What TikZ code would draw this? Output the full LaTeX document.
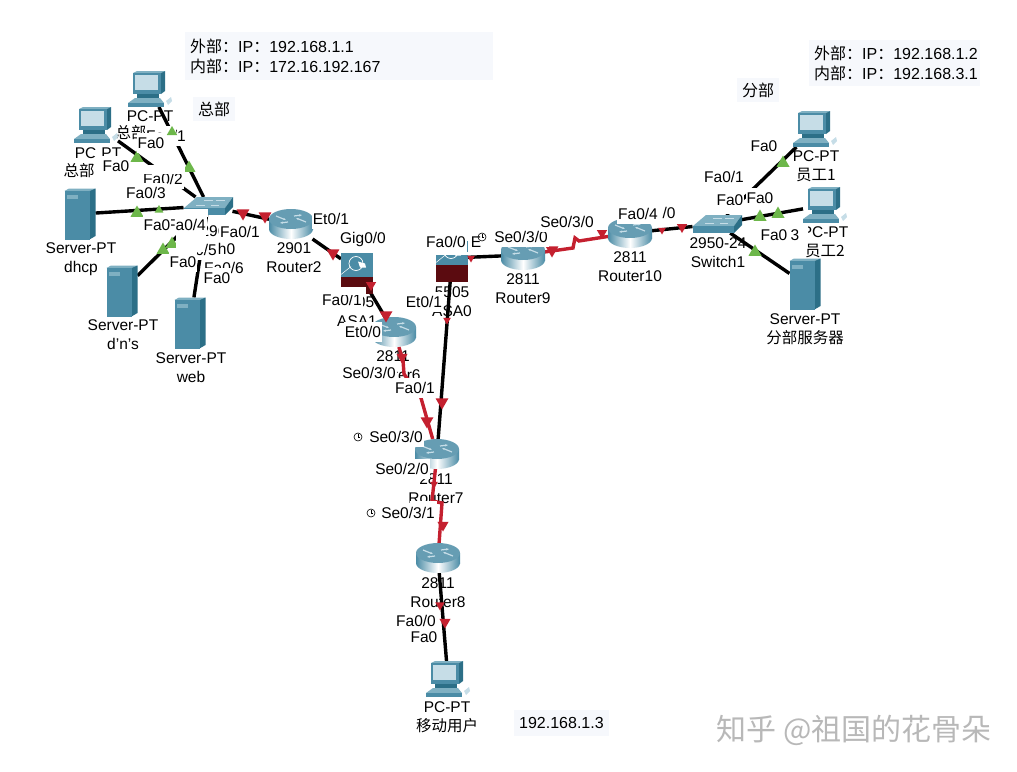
\documentclass[tikz,border=0pt]{standalone}
\usepackage{fontspec}
\setmainfont{Liberation Sans}
\newfontfamily\cjk{Noto Sans CJK SC}
\usepackage{xcolor}
\usepackage{tikz}
\usetikzlibrary{arrows.meta,positioning,shapes.geometric}
\definecolor{ptteal}{HTML}{4B8CA6}
\definecolor{ptdark}{HTML}{2C6F87}
\definecolor{ptlight}{HTML}{7FB0C2}
\definecolor{ptscreen}{HTML}{C6DDE7}
\definecolor{ptmaroon}{HTML}{5B0B10}
\definecolor{linkup}{HTML}{6DB74A}
\definecolor{linkdown}{HTML}{C4202F}
\definecolor{notefill}{HTML}{F6F8FC}
\newcommand{\zh}[1]{{\cjk #1}}
\tikzset{
    pcbox/.style={minimum width=44pt, minimum height=36pt, inner sep=0pt, outer sep=0pt},
    srvbox/.style={minimum width=31pt, minimum height=51pt, inner sep=0pt, outer sep=0pt},
    rtbox/.style={minimum width=44pt, minimum height=30pt, inner sep=0pt, outer sep=0pt},
    swbox/.style={minimum width=49pt, minimum height=18pt, inner sep=0pt, outer sep=0pt},
    asabox/.style={minimum width=32pt, minimum height=34pt, inner sep=0pt, outer sep=0pt},
    devlabel/.style={font=\fontsize{15.5}{19}\selectfont, align=center, inner sep=0pt},
    portlabel/.style={font=\fontsize{15.5}{19}\selectfont, fill=white, inner sep=1pt, minimum height=20pt},
    notebox/.style={font=\fontsize{16}{20}\selectfont, fill=notefill, anchor=north west, align=left, inner xsep=5pt, inner ysep=3pt},
    eth/.style={draw=black, line width=3.4pt},
    serial/.style={draw=linkdown, line width=3.4pt},
    uplight/.style={regular polygon, regular polygon sides=3, fill=linkup, inner sep=0pt, minimum size=15pt},
    downlight/.style={regular polygon, regular polygon sides=3, shape border rotate=180, fill=linkdown, inner sep=0pt, minimum size=15pt},
    cover/.style={fill=white},
    pcicon/.pic={
        \fill[ptlight] (-17,-16) -- (-13,-18) -- (15,-18) -- (11,-16) -- cycle;
        \fill[ptdark] (11,-16) -- (15,-18) -- (15,2) -- (11,5) -- cycle;
        \fill[ptteal] (-17,-16) rectangle (11,5);
        \fill[ptscreen] (-15,-14) rectangle (8,1);
        \fill[ptdark] (-13,5) rectangle (9,9);
        \fill[ptlight] (-15,9) -- (10,9) -- (14,14) -- (-22,14) -- cycle;
        \fill[ptteal] (-22,14) rectangle (14,18);
        \fill[ptscreen] (16,12) -- (21,8) -- (22,12) -- (18,16) -- cycle;
    },
    srvicon/.pic={
        \fill[ptlight] (-15.5,-23) -- (-11,-25.5) -- (15.5,-25.5) -- (9.5,-23) -- cycle;
        \fill[ptdark] (9.5,-23) -- (15.5,-25.5) -- (15.5,22) -- (9.5,25.5) -- cycle;
        \fill[ptteal] (-15.5,-23) rectangle (9.5,25.5);
        \fill[ptlight] (-13,-19) rectangle (-2,-15);
    },
    rticon/.pic={
        \shade[left color=ptteal, right color=ptteal, middle color=white] (0,5) ellipse [x radius=22pt, y radius=10pt];
        \shade[left color=ptteal, right color=ptteal, middle color=white] (-22,-5) rectangle (22,5);
        \fill[ptteal!85!white] (0,-5) ellipse [x radius=22pt, y radius=10pt];
        \draw[ptscreen, line width=1.2pt, -{Stealth[length=3pt]}] (-15,-8) -- (-5,-4);
        \draw[ptscreen, line width=1.2pt, -{Stealth[length=3pt]}] (15,-2) -- (5,-6);
        \draw[ptscreen, line width=1.2pt, -{Stealth[length=3pt]}] (-3,-2) -- (-11,-1);
        \draw[ptscreen, line width=1.2pt, -{Stealth[length=3pt]}] (3,-8) -- (11,-9);
    },
    swicon/.pic={
        \fill[ptlight] (-24,2) -- (-11,-9) -- (25,-9) -- (17,2) -- cycle;
        \fill[ptteal] (-24,2) rectangle (17,9);
        \fill[ptdark] (17,2) -- (25,-9) -- (25,1) -- (17,9) -- cycle;
        \draw[ptscreen, line width=.9pt] (-12,-1) -- (-3,-1) (-4,-6) -- (5,-6) (3,-1) -- (11,-1) (8,-6) -- (17,-6);
    },
    asaicon/.pic={
        \fill[ptteal] (-16,-20.5) rectangle (16,3.5);
        \fill[ptmaroon] (-16,3.5) rectangle (16,20.5);
        \draw[white, line width=.7pt] (-1,-10) circle [radius=7pt];
        \fill[white] (1,-12) -- (8,-10) -- (9,-6) -- (3,-6) -- cycle;
        \draw[white, line width=.5pt] (-16,1) -- (-6,-7);
    },
    clockmark/.pic={
        \draw[line width=.6pt] (0,0) circle [radius=4pt];
        \draw[line width=.6pt] (0,-2.6) -- (0,0) -- (2.2,0);
    },
}
\begin{document}
\begin{tikzpicture}[x=1pt, y=-1pt]
    \useasboundingbox (0,0) rectangle (1017,771);
    % --- notes ---
    \node[notebox, text width=298pt, minimum height=48pt] (notehq) at (185,32) {\zh{外部：}IP\zh{：}192.168.1.1\\\zh{内部：}IP\zh{：}172.16.192.167};
    \node[notebox, text width=161pt, minimum height=46pt] (notebranch) at (809,40) {\zh{外部：}IP\zh{：}192.168.1.2\\\zh{内部：}IP\zh{：}192.168.3.1};
    \node[notebox, minimum width=40pt, minimum height=24pt, align=center] (notehqname) at (193,97) {\zh{总部}};
    \node[notebox, minimum width=38pt, minimum height=24pt, align=center] (notebrname) at (737,78) {\zh{分部}};
    \node[notebox, minimum width=93pt, minimum height=26pt, align=center] (notemobile) at (514,710) {192.168.1.3};
    % --- device anchors ---
    \node[pcbox] (pc1) at (150,89) {};
    \node[pcbox] (pc2) at (96,125) {};
    \node[srvbox] (dhcp) at (80,214) {};
    \node[srvbox] (dns) at (122,291) {};
    \node[srvbox] (web) at (190,323) {};
    \node[swbox] (sw0) at (208,206) {};
    \node[rtbox] (r2) at (291,224) {};
    \node[asabox] (asa1) at (357,270) {};
    \node[rtbox] (r6) at (394,332) {};
    \node[asabox] (asa0) at (452,258) {};
    \node[rtbox] (r9) at (523,255) {};
    \node[rtbox] (r10) at (630,233) {};
    \node[swbox] (sw1) at (717,224) {};
    \node[pcbox] (staff1) at (815,129) {};
    \node[pcbox] (staff2) at (825,205) {};
    \node[srvbox] (srvbr) at (805,284) {};
    \node[rtbox] (r7) at (437,454) {};
    \node[rtbox] (r8) at (438,558) {};
    \node[pcbox] (mobile) at (448,679) {};
    % --- device labels ---
    \node[devlabel] (lpc1) at (150,116) {PC-PT};
    \node[devlabel] (lpc1b) at (131,133) {\zh{总部}};
    \node[devlabel] (lpc2) at (98,153) {PC-PT};
    \node[devlabel] (lpc2b) at (79,171) {\zh{总部}};
    \node[devlabel] (ldhcp) at (81,259) {Server-PT\\dhcp};
    \node[devlabel] (ldns) at (123,335) {Server-PT\\d'n's};
    \node[devlabel] (lweb) at (191,368) {Server-PT\\web};
    \node[devlabel] (lsw0) at (229,231) {2960-24};
    \node[devlabel] (lsw0b) at (208,249) {Switch0};
    \node[devlabel] (lr2) at (294,258) {2901\\Router2};
    \node[devlabel] (lasa1) at (357,312) {5505\\ASA1};
    \node[devlabel] (lr6) at (393,366) {2811\\Router6};
    \node[devlabel] (lasa0) at (452,302) {5505\\ASA0};
    \node[devlabel] (lr9) at (523,289) {2811\\Router9};
    \node[devlabel] (lr10) at (630,267) {2811\\Router10};
    \node[devlabel] (lsw1) at (718,253) {2950-24\\Switch1};
    \node[devlabel] (lstaff1) at (816,166) {PC-PT\\\zh{员工1}};
    \node[devlabel] (lstaff2) at (825,242) {PC-PT\\\zh{员工2}};
    \node[devlabel] (lsrvbr) at (805,329) {Server-PT\\\zh{分部服务器}};
    \node[devlabel] (lr7) at (436,489) {2811\\Router7};
    \node[devlabel] (lr8) at (438,593) {2811\\Router8};
    \node[devlabel] (lmobile) at (447,717) {PC-PT\\\zh{移动用户}};
    % --- links ---
    \coordinate (z6a) at (403,360);
    \coordinate (z6b) at (404,374);
    \coordinate (z6c) at (421,398);
    \coordinate (z9a) at (573,248);
    \coordinate (z9b) at (575,238);
    \coordinate (z9c) at (579,241);
    \coordinate (z7a) at (432,501);
    \coordinate (z7b) at (442,503);
    \draw[eth] (pc1) -- (sw0);
    \draw[eth] (pc2) -- (sw0);
    \draw[eth] (dhcp) -- (sw0);
    \draw[eth] (dns) -- (sw0);
    \draw[eth] (web) -- (sw0);
    \draw[eth] (sw0) -- (r2);
    \draw[eth] (r2) -- (asa1);
    \draw[eth] (asa1) -- (r6);
    \draw[eth] (asa0) -- (r7);
    \draw[eth] (asa0) -- (r9);
    \draw[eth] (r10) -- (sw1);
    \draw[eth] (sw1) -- (staff1);
    \draw[eth] (sw1) -- (staff2);
    \draw[eth] (sw1) -- (srvbr);
    \draw[eth] (r8) -- (mobile);
    \draw[serial] (r6) -- (z6a) -- (z6b) -- (z6c) -- (r7);
    \draw[serial] (r9) -- (z9a) -- (z9b) -- (z9c) -- (r10);
    \draw[serial] (r7) -- (z7a) -- (z7b) -- (r8);
    % --- icons ---
    \pic at (pc1) {pcicon};
    \pic at (pc2) {pcicon};
    \pic at (dhcp) {srvicon};
    \pic at (dns) {srvicon};
    \pic at (web) {srvicon};
    \pic at (sw0) {swicon};
    \pic at (r2) {rticon};
    \pic at (357,273.5) {asaicon};
    \pic at (r6) {rticon};
    \pic at (452,261.5) {asaicon};
    \pic at (r9) {rticon};
    \pic at (r10) {rticon};
    \pic at (sw1) {swicon};
    \pic at (staff1) {pcicon};
    \pic at (staff2) {pcicon};
    \pic at (srvbr) {srvicon};
    \pic at (r7) {rticon};
    \pic at (r8) {rticon};
    \pic at (mobile) {pcicon};
    % --- link lights ---
    \node[uplight] (upa) at (189,168) {};
    \node[uplight] (upb) at (137,158) {};
    \node[uplight] (upc) at (137,213) {};
    \node[uplight, minimum size=10pt] (upd) at (159,210) {};
    \node[uplight] (upe) at (163,250) {};
    \node[uplight] (upf) at (172,244) {};
    \node[uplight] (upg) at (783,163) {};
    \node[uplight] (uph) at (760,217) {};
    \node[uplight] (upi) at (778,214) {};
    \node[uplight] (upj) at (755,252) {};
    \node[downlight] (dna) at (243,213) {};
    \node[downlight] (dnb) at (265,216) {};
    \node[downlight] (dnc) at (333,253) {};
    \node[downlight, minimum size=12pt] (dnd) at (371,285) {};
    \node[downlight] (dne) at (386,315) {};
    \node[downlight, minimum size=13pt] (dnf) at (402,357) {};
    \node[downlight] (dng) at (427,421) {};
    \node[downlight, minimum size=9pt] (dnh) at (447,320) {};
    \node[downlight] (dni) at (442,402) {};
    \node[downlight, minimum size=9pt] (dnj) at (471,258) {};
    \node[downlight] (dnk) at (552,250) {};
    \node[downlight, minimum size=12pt] (dnl) at (602,233) {};
    \node[downlight, minimum size=9pt] (dnm) at (662,230) {};
    \node[downlight, minimum size=12pt] (dnn) at (682,227) {};
    \node[downlight, minimum size=9pt] (dno) at (434,484) {};
    \node[downlight, minimum size=13pt] (dnp) at (443,525) {};
    \node[downlight, minimum size=11pt] (dnq) at (440,605) {};
    \node[downlight, minimum size=13pt] (dnr) at (445,622) {};
    % --- port labels ---
    \node[portlabel] (p1a) at (166,136) {Fa0/1};
    \node[portlabel] (p1b) at (151,143) {Fa0};
    \node[portlabel] (p2a) at (163,179) {Fa0/2};
    \node[portlabel] (p2b) at (116,166) {Fa0};
    \node[portlabel] (p3a) at (146,193) {Fa0/3};
    \node[portlabel] (p4a) at (186,225) {Fa0/4};
    \node[portlabel] (p4b) at (157,225) {Fa0};
    \node[portlabel] (p5a) at (197,250) {Fa0/5};
    \node[portlabel] (p6a) at (224,268) {Fa0/6};
    \node[portlabel] (p6b) at (217,278) {Fa0};
    \node[portlabel] (p7a) at (240,232) {Fa0/1};
    \node[portlabel] (p7b) at (331,219) {Et0/1};
    \node[portlabel] (p8a) at (363,239) {Gig0/0};
    \node[portlabel] (p8b) at (342,300) {Fa0/1};
    \node[portlabel] (p9a) at (363,332) {Et0/0};
    \node[portlabel] (p9b) at (369,373) {Se0/3/0};
    \node[portlabel] (p10a) at (415,388) {Fa0/1};
    \node[portlabel] (p10b) at (424,302) {Et0/1};
    \node[portlabel] (p11a) at (476,242) {E};
    \node[portlabel] (p11b) at (446,242) {Fa0/0};
    \node[portlabel] (p12a) at (521,237) {Se0/3/0};
    \node[portlabel] (p12b) at (567,222) {Se0/3/0};
    \node[portlabel] (p13a) at (669,213) {/0};
    \node[portlabel] (p13b) at (638,214) {Fa0/4};
    \node[portlabel] (p14a) at (724,177) {Fa0/1};
    \node[portlabel] (p14b) at (764,146) {Fa0};
    \node[portlabel] (p15a) at (730,200) {Fa0};
    \node[portlabel] (p15b) at (760,198) {Fa0};
    \node[portlabel] (p16a) at (774,235) {Fa0};
    \node[portlabel] (p16b) at (795,235) {3};
    \node[portlabel] (p17a) at (396,437) {Se0/3/0};
    \node[portlabel] (p17b) at (402,469) {Se0/2/0};
    \node[portlabel] (p18a) at (408,513) {Se0/3/1};
    \node[portlabel] (p19a) at (424,637) {Fa0};
    \node[portlabel] (p19b) at (416,621) {Fa0/0};
    % --- clipped parts ---
    \path[cover] (165,126) rectangle (176,146);
    \path[cover] (94,150) rectangle (101,156);
    \path[cover] (143,165) rectangle (185,174);
    \path[cover] (184,209) rectangle (208,217);
    \path[cover] (176,235) rectangle (206,241);
    \path[cover] (176,241) rectangle (205,252);
    \path[cover] (341,287) rectangle (366,295);
    \path[cover] (435,252) rectangle (470,255);
    \path[cover] (410,501) rectangle (437,505);
    \path[cover] (725,205) rectangle (745,214);
    \path[cover] (800,225) rectangle (808,244);
    \node[portlabel] (p5b) at (183,262) {Fa0};
    \node[uplight, minimum size=12pt] (upk) at (172,132) {};
    % --- clock marks ---
    \pic at (482,237) {clockmark};
    \pic at (358,437) {clockmark};
    \pic at (371,513) {clockmark};
    % --- watermark ---
    \node[font=\fontsize{30}{32}\selectfont, text=black!28, inner sep=0pt] (mark) at (854,730) {\zh{知乎 @祖国的花骨朵}};
\end{tikzpicture}
\end{document}
